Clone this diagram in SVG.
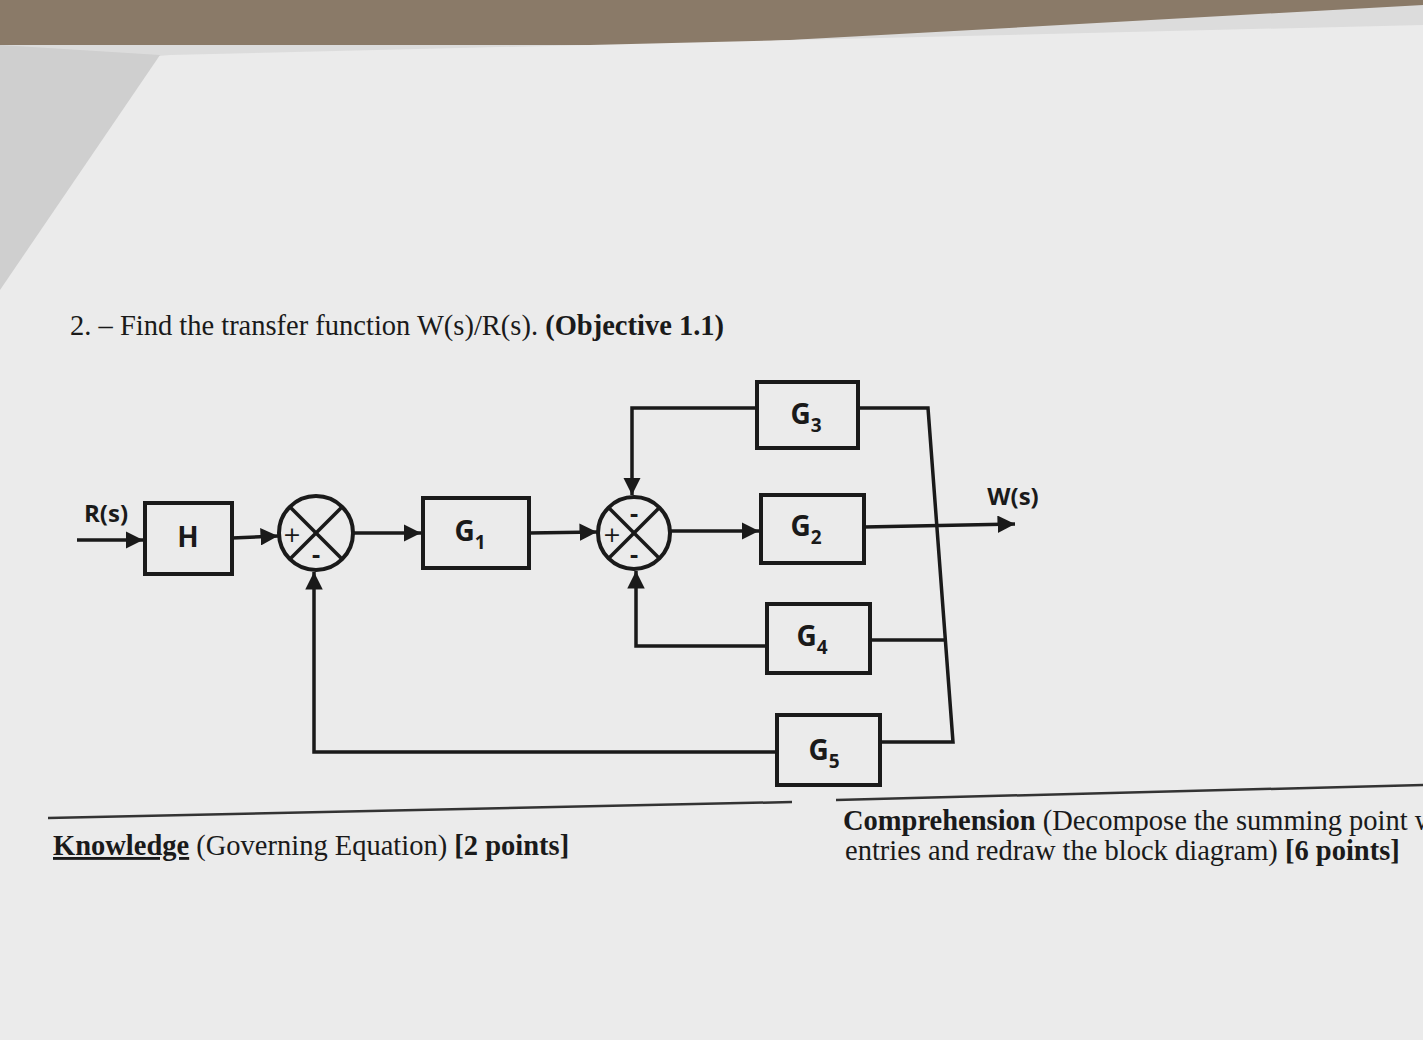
<svg xmlns="http://www.w3.org/2000/svg" width="1423" height="1040" viewBox="0 0 1423 1040">
<defs>
<marker id="ar" viewBox="0 0 10 10" refX="10" refY="5" markerWidth="5" markerHeight="5" orient="auto"><path d="M0,0 L10,5 L0,10 z" fill="#1a1a1a"/></marker>
<style>
.box{fill:none;stroke:#1a1a1a;stroke-width:4}
.ln{fill:none;stroke:#1a1a1a;stroke-width:3.5}
.lbl{font-family:"Open Sans","DejaVu Sans",sans-serif;font-weight:bold;fill:#1a1a1a}
.sg{font-family:"DejaVu Sans",sans-serif;fill:#1a1a1a;font-size:22px}
.tx{font-family:"Liberation Serif",serif;fill:#1a1a1a;font-size:28.5px}
</style>
</defs>
<rect width="1423" height="1040" fill="#dcdcdc"/>
<polygon points="0,0 1423,0 1423,5 700,45 0,45" fill="#8a7a68"/>
<polygon points="0,70 170,55 1423,25 1423,1040 0,1040" fill="#ebebeb"/>
<polygon points="0,45 160,55 0,290" fill="#cfcfcf"/>
<text class="tx" x="70" y="335" font-size="27.5">2. – Find the transfer function W(s)/R(s). <tspan font-weight="bold">(Objective 1.1)</tspan></text>
<g id="H"><rect class="box" x="145" y="503" width="87" height="71"/><text class="lbl" x="188" y="547" font-size="28" text-anchor="middle">H</text></g>
<g id="S1"><circle class="box" cx="316" cy="533" r="37"/><line class="ln" x1="290" y1="507" x2="342" y2="559"/><line class="ln" x1="342" y1="507" x2="290" y2="559"/><text class="sg" x="292" y="542" text-anchor="middle">+</text><text class="sg" x="316" y="563" text-anchor="middle" font-weight="bold">-</text></g>
<g id="G1"><rect class="box" x="423" y="498" width="106" height="70"/><text class="lbl" x="470" y="541" font-size="28" text-anchor="middle">G<tspan font-size="19" dy="8">1</tspan></text></g>
<g id="S2"><circle class="box" cx="634" cy="533" r="36"/><line class="ln" x1="609" y1="508" x2="659" y2="558"/><line class="ln" x1="659" y1="508" x2="609" y2="558"/><text class="sg" x="612" y="542" text-anchor="middle">+</text><text class="sg" x="634" y="522" text-anchor="middle" font-weight="bold">-</text><text class="sg" x="634" y="563" text-anchor="middle" font-weight="bold">-</text></g>
<g id="G2"><rect class="box" x="761" y="495" width="103" height="68"/><text class="lbl" x="806" y="536" font-size="28" text-anchor="middle">G<tspan font-size="19" dy="8">2</tspan></text></g>
<g id="G3"><rect class="box" x="757" y="382" width="101" height="66"/><text class="lbl" x="806" y="424" font-size="28" text-anchor="middle">G<tspan font-size="19" dy="8">3</tspan></text></g>
<g id="G4"><rect class="box" x="767" y="604" width="103" height="69"/><text class="lbl" x="812" y="646" font-size="28" text-anchor="middle">G<tspan font-size="19" dy="8">4</tspan></text></g>
<g id="G5"><rect class="box" x="777" y="715" width="103" height="70"/><text class="lbl" x="824" y="760" font-size="28" text-anchor="middle">G<tspan font-size="19" dy="8">5</tspan></text></g>
<text class="lbl" x="106" y="522" font-size="24" text-anchor="middle">R(s)</text>
<text class="lbl" x="1013" y="505" font-size="24" text-anchor="middle">W(s)</text>
<g id="connectors">
<line class="ln" x1="77" y1="540" x2="143" y2="540" marker-end="url(#ar)"/>
<line class="ln" x1="232" y1="538" x2="278" y2="536" marker-end="url(#ar)"/>
<line class="ln" x1="353" y1="533" x2="421" y2="533" marker-end="url(#ar)"/>
<line class="ln" x1="529" y1="533" x2="597" y2="532" marker-end="url(#ar)"/>
<line class="ln" x1="670" y1="531" x2="759" y2="531" marker-end="url(#ar)"/>
<line class="ln" x1="864" y1="527" x2="1015" y2="524" marker-end="url(#ar)"/>
<polyline class="ln" points="757,408 632,408 632,495" marker-end="url(#ar)"/>
<polyline class="ln" points="858,408 928,408 953,742 880,742"/>
<line class="ln" x1="870" y1="640" x2="944" y2="640"/>
<polyline class="ln" points="767,646 636,646 636,571" marker-end="url(#ar)"/>
<polyline class="ln" points="777,752 314,752 314,572" marker-end="url(#ar)"/>
</g>
<line x1="48" y1="818" x2="792" y2="802" stroke="#333" stroke-width="2.5"/>
<line x1="836" y1="800" x2="1423" y2="785" stroke="#333" stroke-width="2.5"/>
<text class="tx" x="53" y="855"><tspan font-weight="bold" text-decoration="underline">Knowledge</tspan> (Governing Equation) <tspan font-weight="bold">[2 points]</tspan></text>
<text class="tx" x="843" y="830"><tspan font-weight="bold">Comprehension</tspan> (Decompose the summing point w</text>
<text class="tx" x="845" y="860">entries and redraw the block diagram) <tspan font-weight="bold">[6 points]</tspan></text>
</svg>
